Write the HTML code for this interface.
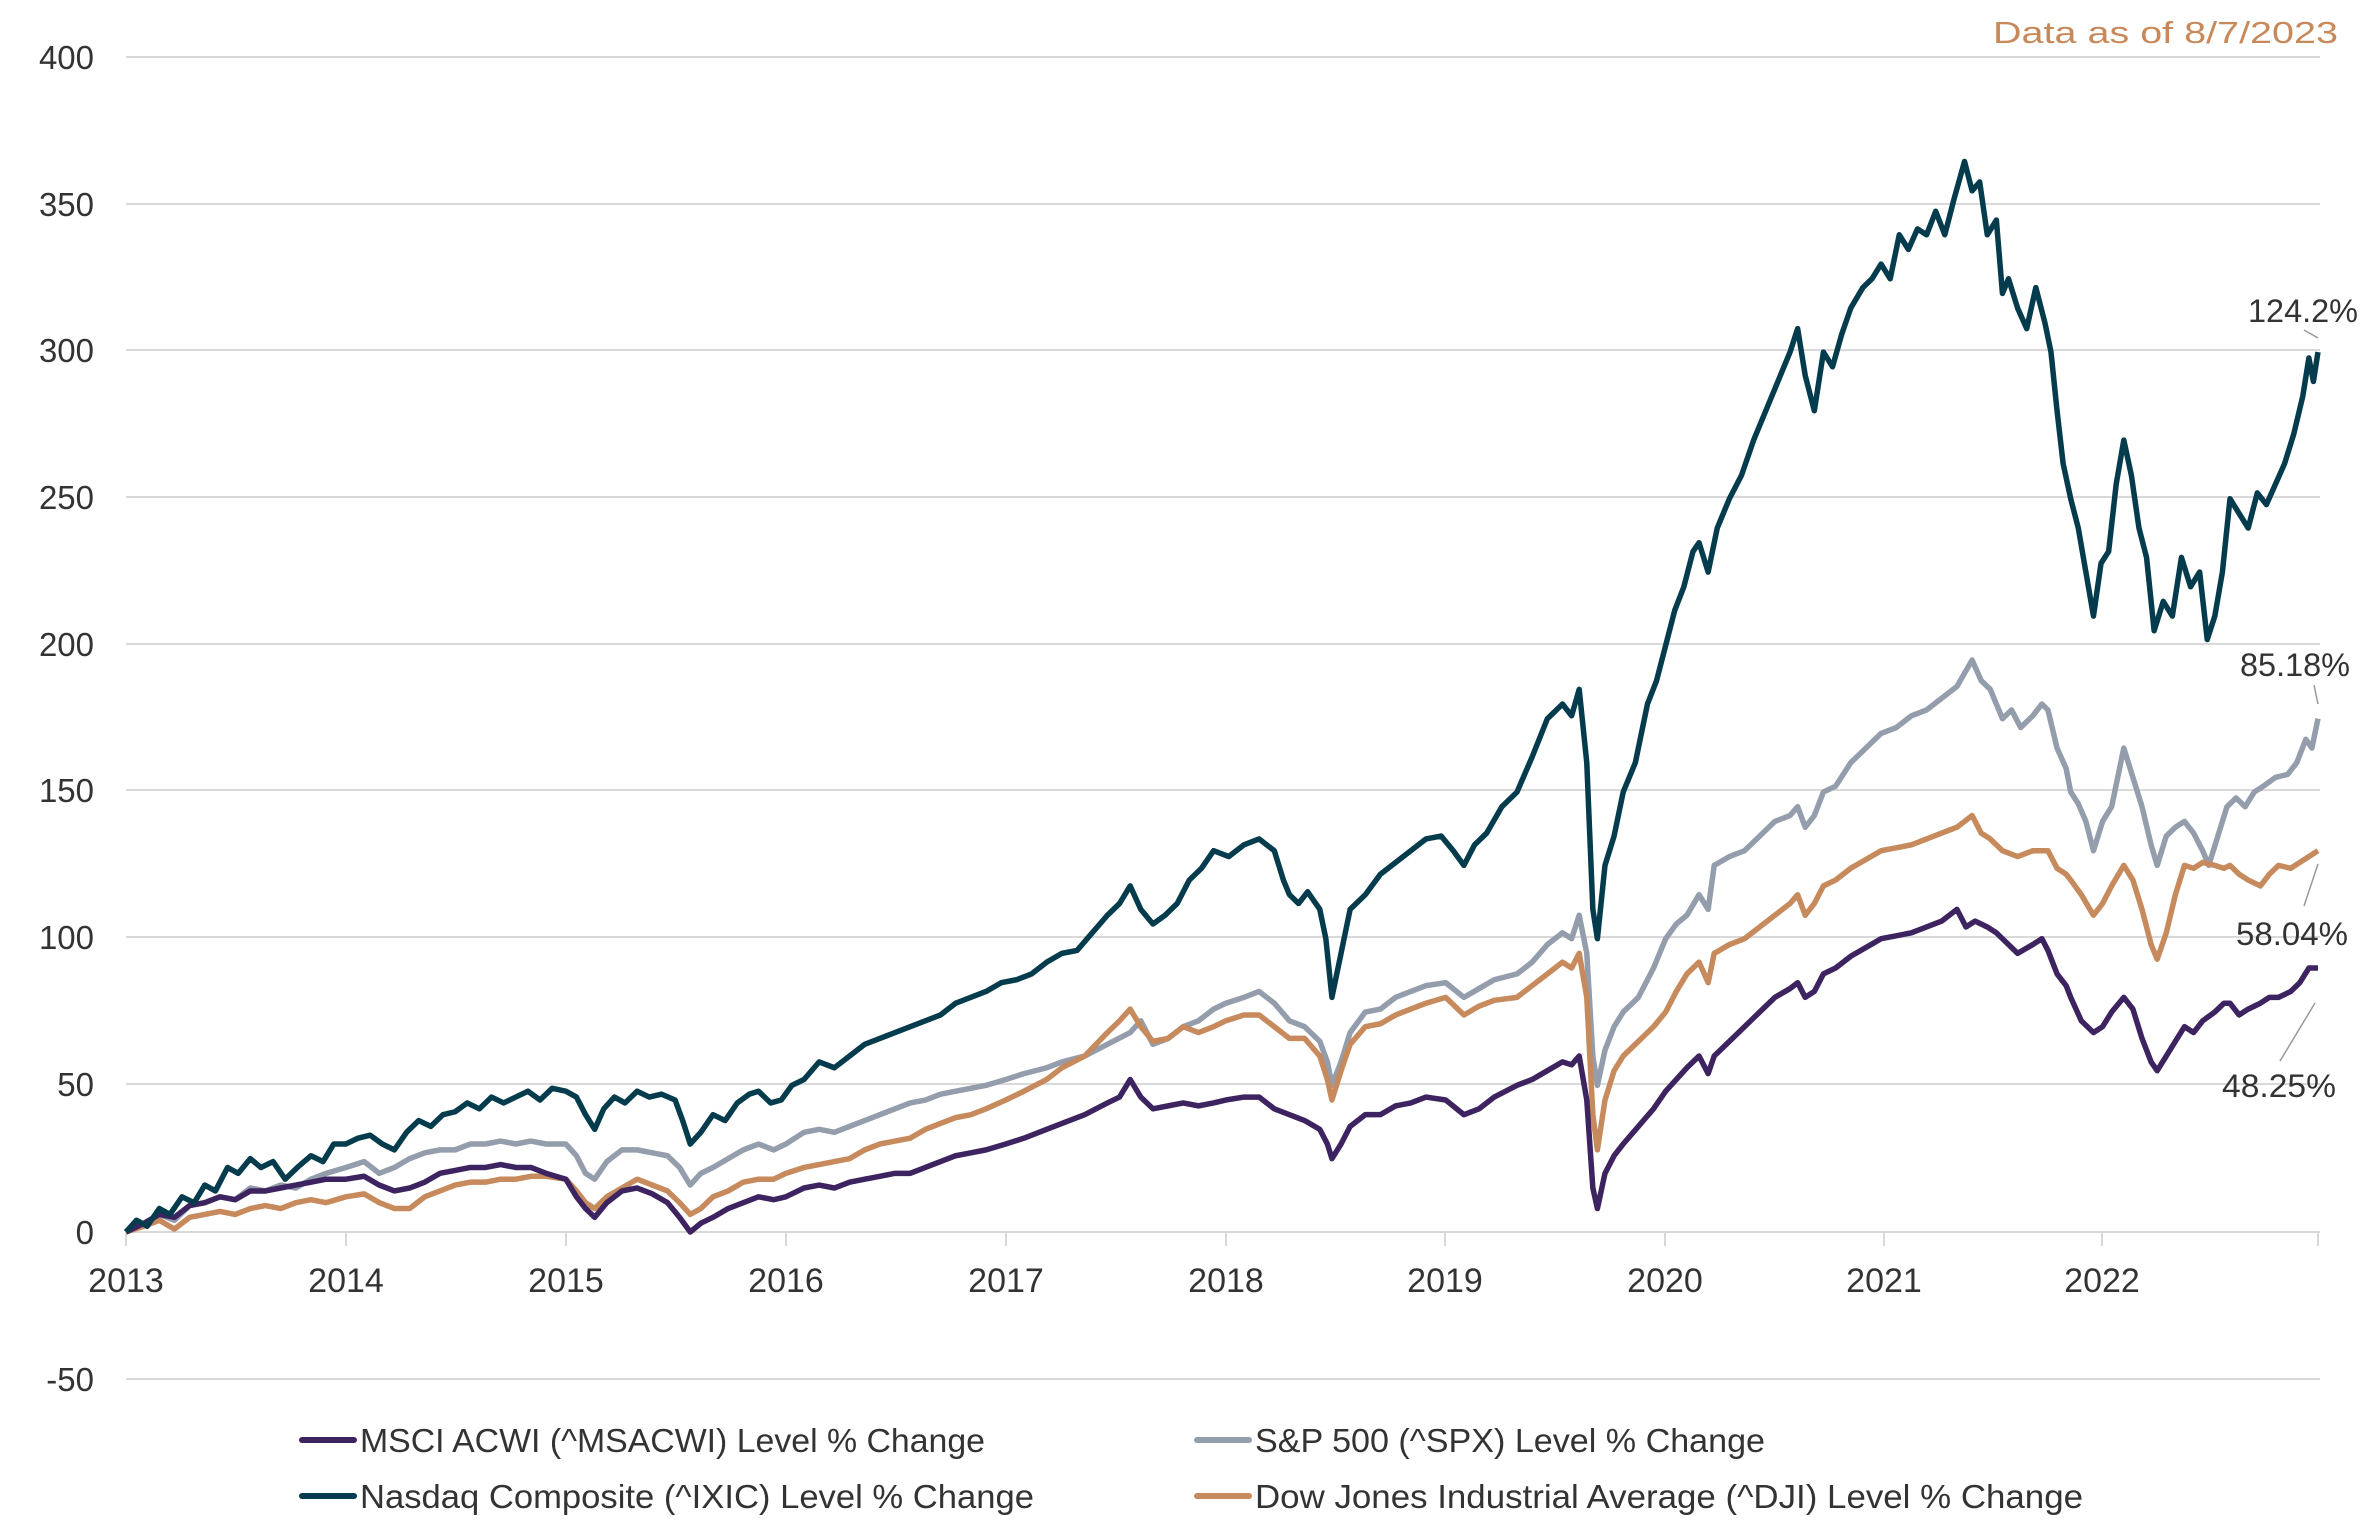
<!DOCTYPE html>
<html><head><meta charset="utf-8"><style>
html,body{margin:0;padding:0;background:#fff;}
svg{display:block;font-family:"Liberation Sans",sans-serif;}
</style></head><body>
<svg width="2379" height="1536" viewBox="0 0 2379 1536" xmlns="http://www.w3.org/2000/svg">
<g stroke="#d9d9d9" stroke-width="2">
<line x1="126" x2="2320" y1="57" y2="57"/>
<line x1="126" x2="2320" y1="204" y2="204"/>
<line x1="126" x2="2320" y1="350" y2="350"/>
<line x1="126" x2="2320" y1="497" y2="497"/>
<line x1="126" x2="2320" y1="644" y2="644"/>
<line x1="126" x2="2320" y1="790" y2="790"/>
<line x1="126" x2="2320" y1="937" y2="937"/>
<line x1="126" x2="2320" y1="1084" y2="1084"/>
<line x1="126" x2="2320" y1="1232" y2="1232"/>
<line x1="126" x2="2320" y1="1379" y2="1379"/>
<line x1="126" x2="126" y1="1232" y2="1246"/><line x1="346" x2="346" y1="1232" y2="1246"/>
<line x1="566" x2="566" y1="1232" y2="1246"/><line x1="786" x2="786" y1="1232" y2="1246"/>
<line x1="1006" x2="1006" y1="1232" y2="1246"/><line x1="1226" x2="1226" y1="1232" y2="1246"/>
<line x1="1445" x2="1445" y1="1232" y2="1246"/><line x1="1665" x2="1665" y1="1232" y2="1246"/>
<line x1="1884" x2="1884" y1="1232" y2="1246"/><line x1="2102" x2="2102" y1="1232" y2="1246"/>
<line x1="2318" x2="2318" y1="1232" y2="1246"/>
</g>
<g fill="#333" font-size="33" text-anchor="end">
<text x="94" y="69">400</text><text x="94" y="216">350</text><text x="94" y="362">300</text>
<text x="94" y="509">250</text><text x="94" y="656">200</text><text x="94" y="802">150</text>
<text x="94" y="949">100</text><text x="94" y="1096">50</text><text x="94" y="1244">0</text>
<text x="94" y="1391">-50</text>
</g>
<g fill="#333" font-size="34" text-anchor="middle">
<text x="126" y="1292">2013</text><text x="346" y="1292">2014</text><text x="566" y="1292">2015</text>
<text x="786" y="1292">2016</text><text x="1006" y="1292">2017</text><text x="1226" y="1292">2018</text>
<text x="1445" y="1292">2019</text><text x="1665" y="1292">2020</text><text x="1884" y="1292">2021</text>
<text x="2102" y="1292">2022</text>
</g>
<g transform="matrix(1.517 0 0 -2.933 0 1232)" fill="none" stroke-width="5.5" stroke-linejoin="round">
<polyline vector-effect="non-scaling-stroke" stroke="#939dab" points="83,0 95,3 105,6 115,4 125,9 135,10 145,12 155,11 165,15 175,14 185,16 195,15 205,18 215,20 228,22 240,24 250,20 260,22 270,25 280,27 290,28 300,28 310,30 320,30 330,31 340,30 350,31 360,30 373,30 380,26 386,20 392,18 400,24 410,28 420,28 430,27 440,26 448,22 455,16 462,20 470,22 480,25 490,28 500,30 510,28 518,30 530,34 540,35 550,34 560,36 570,38 580,40 590,42 600,44 610,45 620,47 630,48 640,49 650,50 663,52 675,54 690,56 700,58 715,60 730,64 745,68 752,72 760,64 770,66 780,70 790,72 800,76 808,78 820,80 830,82 840,78 850,72 860,70 870,65 875,58 878,50 884,58 890,68 900,75 910,76 920,80 930,82 940,84 953,85 965,80 975,83 985,86 1000,88 1010,92 1020,98 1030,102 1036,100 1041,108 1046,95 1050,60 1053,50 1058,62 1064,70 1070,75 1080,80 1090,90 1098,100 1105,105 1112,108 1120,115 1126,110 1130,125 1140,128 1150,130 1160,135 1170,140 1180,142 1185,145 1190,138 1196,142 1202,150 1210,152 1220,160 1230,165 1240,170 1250,172 1260,176 1270,178 1280,182 1290,186 1300,195 1306,188 1312,185 1316,180 1320,175 1326,178 1332,172 1340,176 1346,180 1350,178 1356,165 1362,158 1365,150 1370,146 1375,140 1380,130 1386,140 1392,145 1400,165 1406,155 1412,145 1418,132 1422,125 1428,135 1434,138 1440,140 1446,136 1452,130 1456,125 1462,135 1468,145 1474,148 1480,145 1486,150 1492,152 1500,155 1508,156 1514,160 1520,168 1524,165 1528,175"/>
<polyline vector-effect="non-scaling-stroke" stroke="#c68a5c" points="83,0 95,2 105,4 115,1 125,5 135,6 145,7 155,6 165,8 175,9 185,8 195,10 205,11 215,10 228,12 240,13 250,10 260,8 270,8 280,12 290,14 300,16 310,17 320,17 330,18 340,18 350,19 360,19 373,18 380,14 386,10 392,8 400,12 410,15 420,18 430,16 440,14 448,10 455,6 462,8 470,12 480,14 490,17 500,18 510,18 518,20 530,22 540,23 550,24 560,25 570,28 580,30 590,31 600,32 610,35 620,37 630,39 640,40 650,42 663,45 675,48 690,52 700,56 715,60 730,68 738,72 745,76 752,70 760,65 770,66 780,70 790,68 800,70 808,72 820,74 830,74 840,70 850,66 860,66 870,60 875,52 878,45 884,55 890,64 900,70 910,71 920,74 930,76 940,78 953,80 965,74 975,77 985,79 1000,80 1010,84 1020,88 1030,92 1036,90 1041,95 1046,80 1050,40 1053,28 1058,45 1064,55 1070,60 1080,65 1090,70 1098,75 1105,82 1112,88 1120,92 1126,85 1130,95 1140,98 1150,100 1160,104 1170,108 1180,112 1185,115 1190,108 1196,112 1202,118 1210,120 1220,124 1230,127 1240,130 1250,131 1260,132 1270,134 1280,136 1290,138 1300,142 1306,136 1312,134 1316,132 1320,130 1330,128 1340,130 1350,130 1356,124 1362,122 1365,120 1372,115 1380,108 1386,112 1392,118 1400,125 1406,120 1412,110 1418,98 1422,93 1428,102 1434,115 1440,125 1446,124 1452,126 1460,125 1466,124 1470,125 1476,122 1482,120 1490,118 1496,122 1502,125 1510,124 1516,126 1522,128 1528,130"/>
<polyline vector-effect="non-scaling-stroke" stroke="#3d2460" points="83,0 95,3 105,6 115,5 125,9 135,10 145,12 155,11 165,14 175,14 185,15 195,16 205,17 215,18 228,18 240,19 250,16 260,14 270,15 280,17 290,20 300,21 310,22 320,22 330,23 340,22 350,22 360,20 373,18 380,12 386,8 392,5 400,10 410,14 420,15 430,13 440,10 448,5 455,0 462,3 470,5 480,8 490,10 500,12 510,11 518,12 530,15 540,16 550,15 560,17 570,18 580,19 590,20 600,20 610,22 620,24 630,26 640,27 650,28 663,30 675,32 690,35 700,37 715,40 730,44 738,46 745,52 752,46 760,42 770,43 780,44 790,43 800,44 808,45 820,46 830,46 840,42 850,40 860,38 870,35 875,30 878,25 884,30 890,36 900,40 910,40 920,43 930,44 940,46 953,45 965,40 975,42 985,46 1000,50 1010,52 1020,55 1030,58 1036,57 1041,60 1046,45 1050,15 1053,8 1058,20 1064,26 1070,30 1080,36 1090,42 1098,48 1105,52 1112,56 1120,60 1126,54 1130,60 1140,65 1150,70 1160,75 1170,80 1180,83 1185,85 1190,80 1196,82 1202,88 1210,90 1220,94 1230,97 1240,100 1250,101 1260,102 1270,104 1280,106 1290,110 1296,104 1302,106 1310,104 1316,102 1320,100 1330,95 1340,98 1346,100 1350,96 1356,88 1362,84 1365,80 1372,72 1380,68 1386,70 1392,75 1400,80 1406,76 1412,66 1418,58 1422,55 1428,60 1434,65 1440,70 1446,68 1452,72 1460,75 1466,78 1470,78 1476,74 1482,76 1490,78 1496,80 1502,80 1510,82 1516,85 1522,90 1528,90"/>
<polyline vector-effect="non-scaling-stroke" stroke="#053c4d" points="83,0 90,4 97,2 105,8 112,6 120,12 128,10 135,16 142,14 150,22 157,20 165,25 172,22 180,24 188,18 196,22 205,26 213,24 220,30 228,30 236,32 244,33 252,30 260,28 268,34 276,38 284,36 292,40 300,41 308,44 316,42 324,46 332,44 340,46 348,48 356,45 364,49 373,48 380,46 386,40 392,35 398,42 405,46 412,44 420,48 428,46 436,47 445,45 450,38 455,30 462,34 470,40 478,38 486,44 494,47 500,48 508,44 515,45 522,50 530,52 540,58 550,56 560,60 570,64 580,66 590,68 600,70 610,72 620,74 630,78 640,80 650,82 660,85 670,86 680,88 690,92 700,95 710,96 720,102 730,108 738,112 745,118 752,110 760,105 768,108 776,112 784,120 792,124 800,130 810,128 820,132 830,134 840,130 846,120 850,115 856,112 862,116 870,110 874,100 878,80 882,90 890,110 900,115 910,122 920,126 930,130 940,134 950,135 958,130 965,125 972,132 980,136 990,145 1000,150 1010,162 1020,175 1030,180 1036,176 1041,185 1046,160 1050,110 1053,100 1058,125 1064,135 1070,150 1078,160 1086,180 1092,188 1098,200 1104,212 1110,220 1116,232 1120,235 1126,225 1132,240 1140,250 1148,258 1156,270 1164,280 1172,290 1180,300 1185,308 1190,292 1196,280 1202,300 1208,295 1214,306 1220,315 1228,322 1234,325 1240,330 1246,325 1252,340 1258,335 1264,342 1270,340 1276,348 1282,340 1288,352 1295,365 1300,355 1305,358 1310,340 1316,345 1320,320 1324,325 1330,315 1336,308 1342,322 1348,310 1352,300 1356,280 1360,262 1365,250 1370,240 1375,225 1380,210 1385,228 1390,232 1395,255 1400,270 1405,258 1410,240 1415,230 1420,205 1426,215 1432,210 1438,230 1444,220 1450,225 1455,202 1460,210 1465,225 1470,250 1476,245 1482,240 1488,252 1494,248 1500,255 1506,262 1512,272 1518,285 1522,298 1525,290 1528,300"/>
</g>
<text x="2338" y="43" fill="#c8895a" font-size="31" text-anchor="end" textLength="345" lengthAdjust="spacingAndGlyphs">Data as of 8/7/2023</text>
<g fill="#333" font-size="32">
<text x="2248" y="322" textLength="110" lengthAdjust="spacingAndGlyphs">124.2%</text>
<text x="2240" y="676" textLength="110" lengthAdjust="spacingAndGlyphs">85.18%</text>
<text x="2236" y="945" textLength="112" lengthAdjust="spacingAndGlyphs">58.04%</text>
<text x="2222" y="1097" textLength="114" lengthAdjust="spacingAndGlyphs">48.25%</text>
</g>
<g stroke="#999" stroke-width="1.5">
<line x1="2304" y1="330" x2="2318" y2="338"/>
<line x1="2314" y1="685" x2="2318" y2="704"/>
<line x1="2304" y1="906" x2="2318" y2="864"/>
<line x1="2280" y1="1061" x2="2315" y2="1003"/>
</g>
<g font-size="33" fill="#333">
<line x1="302" x2="354" y1="1440" y2="1440" stroke="#3d2460" stroke-width="6" stroke-linecap="round"/>
<text x="360" y="1452" textLength="625" lengthAdjust="spacingAndGlyphs">MSCI ACWI (^MSACWI) Level % Change</text>
<line x1="1197" x2="1249" y1="1440" y2="1440" stroke="#939dab" stroke-width="6" stroke-linecap="round"/>
<text x="1255" y="1452" textLength="510" lengthAdjust="spacingAndGlyphs">S&amp;P 500 (^SPX) Level % Change</text>
<line x1="302" x2="354" y1="1496" y2="1496" stroke="#053c4d" stroke-width="6" stroke-linecap="round"/>
<text x="360" y="1508" textLength="674" lengthAdjust="spacingAndGlyphs">Nasdaq Composite (^IXIC) Level % Change</text>
<line x1="1197" x2="1249" y1="1496" y2="1496" stroke="#c68a5c" stroke-width="6" stroke-linecap="round"/>
<text x="1255" y="1508" textLength="828" lengthAdjust="spacingAndGlyphs">Dow Jones Industrial Average (^DJI) Level % Change</text>
</g>
</svg>
</body></html>
